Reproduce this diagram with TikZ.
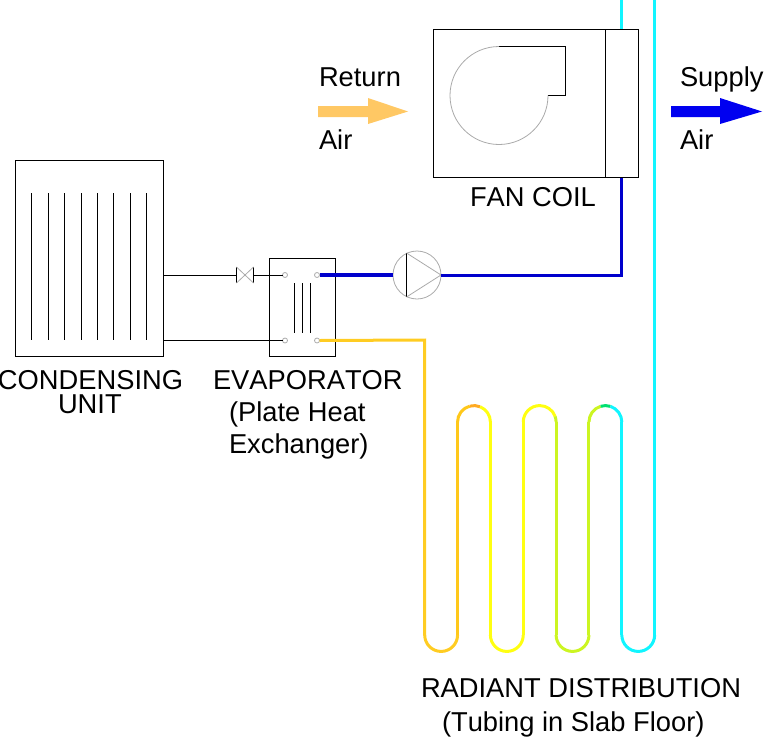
\documentclass[tikz,border=0pt]{standalone}
\usepackage{fontspec}
\setmainfont[Kerning=Off]{Liberation Sans}
\definecolor{coolblue}{HTML}{0000CC}
\definecolor{gold}{HTML}{FFCC22}
\definecolor{goldb}{HTML}{FFC81A}
\definecolor{lemon}{HTML}{FFFF11}
\definecolor{lime}{HTML}{CCF522}
\definecolor{aqua}{HTML}{11F5FF}
\definecolor{patchgreen}{HTML}{00E070}
\definecolor{patchorange}{HTML}{FFAA22}
\definecolor{retair}{HTML}{FFC864}
\definecolor{supair}{HTML}{0000F0}
\definecolor{thingray}{HTML}{AAAAAA}
\tikzset{
  plain/.style={draw=black,line width=1pt,inner sep=0pt,outer sep=0pt,fill=none},
  wire/.style={draw=black,line width=1pt},
  graywire/.style={draw=thingray,line width=0.8pt},
  port/.style={circle,draw=thingray,line width=0.8pt,minimum size=5pt,inner sep=0pt,outer sep=0pt},
  tube/.style={line width=3pt,line cap=butt,line join=miter},
  lbl/.style={anchor=base west,inner sep=0pt,outer sep=0pt,font=\fontsize{27.3pt}{27.3pt}\selectfont,text=black},
}
\newcommand{\bendseg}[5]{\draw[tube,#5] ([shift={(#1,#2)}]#3:16.425) arc[start angle=#3,end angle=#4,radius=16.425];}
\begin{document}
\begin{tikzpicture}[x=1pt,y=-1pt]
\useasboundingbox (0,0) rectangle (775,752);
% condensing unit
\node[plain,minimum width=148pt,minimum height=196pt] (cond) at (89.5,258.5) {};
\foreach \x in {31.5,48.5,64.5,81.5,97.5,113.5,130.5,146.5}
  \draw[wire] (\x,193) -- (\x,340);
% evaporator
\node[plain,minimum width=66pt,minimum height=98pt] (evap) at (302.5,307.5) {};
\foreach \x in {294.5,302.5,310.5}
  \draw[wire] (\x,283) -- (\x,333);
\node[port] (p1) at (285,275) {};
\node[port] (p3) at (285,340.5) {};
\node[port] (p2) at (317,275) {};
\node[port] (p4) at (317,340.5) {};
% valve
\coordinate (vl) at (236.5,275);
\coordinate (vr) at (253.5,275);
\coordinate (c1) at (163.5,275);
\coordinate (c2) at (163.5,340.5);
\draw[wire] (c1) -- (vl);
\draw[wire] (vr) -- (p1.west);
\draw[wire] (c2) -- (p3.west);
\draw[wire] (236.5,267) -- (236.5,283);
\draw[wire] (253.5,267) -- (253.5,283);
\draw[graywire] (236.5,267) -- (253.5,283) (236.5,283) -- (253.5,267);
% pump
\node[circle,draw=thingray,line width=0.8pt,minimum size=48pt,inner sep=0pt,outer sep=0pt] (pump) at (417,275) {};
\draw[wire] (406.5,253) -- (406.5,297);
\draw[graywire] (406.5,253) -- (441,275) -- (406.5,297);
% fan coil
\node[plain,minimum width=205pt,minimum height=148pt] (fan) at (536,103.5) {};
\draw[wire] (605.5,29.5) -- (605.5,177.5);
\draw[wire] (499,46.5) -- (565.5,46.5) -- (565.5,95.5) -- (548,95.5);
\draw[graywire] (548,95.5) arc[start angle=0,end angle=270,radius=49];
% pipes
\coordinate (ft) at (621.8,29);
\coordinate (fb) at (621.8,178);
\coordinate (ct) at (621.8,0);
\coordinate (rt) at (654.65,0);
\coordinate (corner1) at (621.8,275);
\coordinate (corner2) at (424.7,340);
\draw[tube,coolblue,line width=3.6pt] (p2.east) -- (pump.west);
\draw[tube,coolblue] (pump.east) -- (corner1) -- (fb);
\draw[tube,aqua] (ct) -- (ft);
\draw[tube,gold] (p4.east) -- (corner2) -- (424.7,635);
% serpentine
\bendseg{441.125}{635}{180}{0}{gold}
\draw[tube,goldb] (457.55,635) -- (457.55,422);
\bendseg{473.975}{422}{180}{255}{goldb}
\bendseg{473.975}{422}{255}{292}{patchorange}
\bendseg{473.975}{422}{292}{360}{lemon}
\draw[tube,lemon] (490.4,422) -- (490.4,635);
\bendseg{506.825}{635}{180}{0}{lemon}
\draw[tube,lemon] (523.25,635) -- (523.25,422);
\bendseg{539.675}{422}{180}{340}{lemon}
\bendseg{539.675}{422}{340}{360}{lime}
\draw[tube,lime] (556.1,422) -- (556.1,635);
\bendseg{572.525}{635}{180}{0}{lime}
\draw[tube,lime] (588.95,635) -- (588.95,422);
\bendseg{605.375}{422}{180}{253}{lime}
\bendseg{605.375}{422}{253}{288}{patchgreen}
\bendseg{605.375}{422}{288}{360}{aqua}
\draw[tube,aqua] (621.8,422) -- (621.8,635);
\bendseg{638.225}{635}{180}{0}{aqua}
\draw[tube,aqua] (654.65,635) -- (rt);
% air arrows
\fill[retair] (318,106) -- (368,106) -- (368,98) -- (408,111.5) -- (368,124) -- (368,117) -- (318,117) -- cycle;
\fill[supair] (671,106) -- (720,106) -- (720,98) -- (762,111.5) -- (720,124) -- (720,117) -- (671,117) -- cycle;
% labels
\node[lbl] (t1) at (319,86) {Return};
\node[lbl] (t2) at (319,149) {Air};
\node[lbl] (t3) at (680,86) {Supply};
\node[lbl] (t4) at (680,149) {Air};
\node[lbl] (t5) at (470,206) {FAN COIL};
\node[lbl] (t6) at (-2,389) {CONDENSING};
\node[lbl] (t7) at (58,413) {UNIT};
\node[lbl] (t8) at (213,389) {EVAPORATOR};
\node[lbl] (t9) at (229,421) {(Plate Heat};
\node[lbl] (t10) at (229,453) {Exchanger)};
\node[lbl] (t11) at (421,697) {RADIANT DISTRIBUTION};
\node[lbl] (t12) at (442,731) {(Tubing in Slab Floor)};
\end{tikzpicture}
\end{document}
